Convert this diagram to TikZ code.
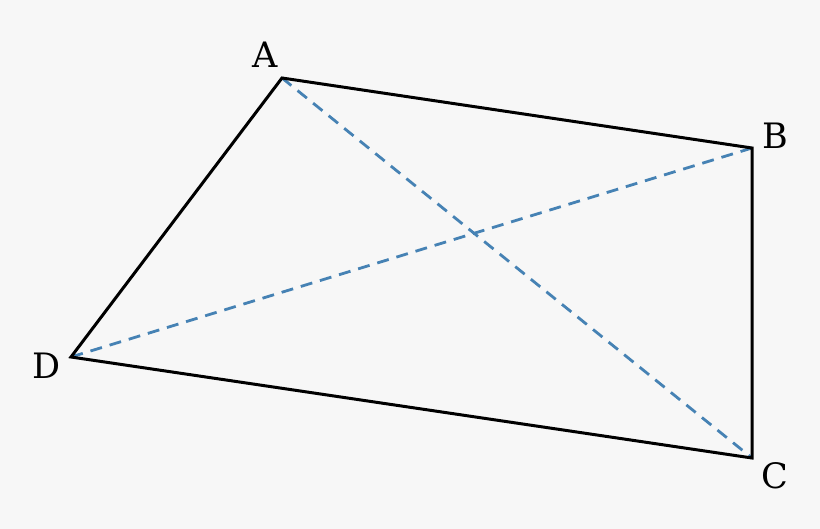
\documentclass[tikz,border=0pt]{standalone}
\usepackage{fontspec}
\setmainfont{DejaVu Serif}
\definecolor{bgc}{HTML}{F7F7F7}
\definecolor{diag}{HTML}{4682B4}
\begin{document}
\begin{tikzpicture}[x=1pt,y=-1pt,
  edge/.style={line width=3pt,black,line join=miter},
  diagline/.style={line width=2.8pt,diag,dash pattern=on 12pt off 8pt},
  lbl/.style={font=\fontsize{35}{42}\selectfont,inner sep=0pt,anchor=center}]
\fill[bgc] (0,0) rectangle (820,529);
\useasboundingbox (0,0) rectangle (820,529);
\coordinate (A) at (282,78);
\coordinate (B) at (752,148);
\coordinate (C) at (752,458);
\coordinate (D) at (71,357);
\draw[diagline] (A) -- (C);
\draw[diagline] (B) -- (D);
\draw[edge] (A) -- (B) -- (C) -- (D) -- cycle;
\node[lbl] (lA) at (265.5,55) {A};
\node[lbl] (lB) at (775,136) {B};
\node[lbl] (lC) at (775,476) {C};
\node[lbl] (lD) at (46.5,366) {D};
\end{tikzpicture}
\end{document}
